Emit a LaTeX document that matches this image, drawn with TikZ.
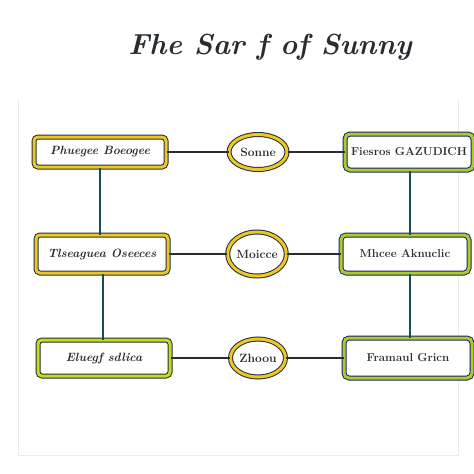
\documentclass[tikz,border=0pt]{standalone}
\usetikzlibrary{shapes.geometric}
\definecolor{ink}{RGB}{40,45,50}
\definecolor{gold}{RGB}{235,200,40}
\definecolor{lime}{RGB}{170,205,40}
\definecolor{pagegray}{RGB}{232,234,236}
\tikzset{
  leftbox/.style={draw=ink, double=gold, double distance=3pt, line width=1pt, fill=white, rounded corners=4pt, minimum width=132pt, minimum height=30pt, font=\fontsize{12}{14}\selectfont\bfseries\itshape, text=ink},
  rightbox/.style={draw=ink!70!blue, double=lime, double distance=3pt, line width=1pt, fill=white, rounded corners=5pt, minimum width=128pt, minimum height=36pt, font=\fontsize{11.5}{14}\selectfont\bfseries, text=ink},
  midell/.style={ellipse, draw=ink, double=gold, double distance=3pt, line width=1pt, fill=white, minimum width=58pt, minimum height=38pt, inner sep=0pt, font=\fontsize{12}{14}\selectfont\bfseries, text=ink},
  link/.style={draw=ink, line width=1.1pt},
  vlink/.style={draw=ink!60!teal, line width=1.1pt}
}
\begin{document}
\begin{tikzpicture}[x=1pt,y=-1pt]
\useasboundingbox (0,0) rectangle (474,474);
\fill[white] (0,0) rectangle (474,474);
\draw[pagegray, line width=1pt] (18,100) -- (18,455) -- (458,455) -- (458,100);
% title
\node (title) at (270,47) {\fontsize{29}{32}\selectfont\bfseries\itshape\color{ink} Fhe Sar f of Sunny};
% nodes
\node[leftbox] (l1) at (100,152) {Phuegee Boeogee};
\node[leftbox, minimum height=38pt] (l2) at (102,254) {Tlseaguea Oseeces};
\node[leftbox, double=lime!70!yellow, minimum height=36pt] (l3) at (104,358) {Eluegf sdlica};
\node[midell, minimum height=35pt] (m1) at (258,152) {Sonne};
\node[midell, minimum height=44pt] (m2) at (257,254) {Moicce};
\node[midell, minimum width=55pt] (m3) at (258,358) {Zhoou};
\node[rightbox] (r1) at (409,152) {Fiesros GAZUDICH};
\node[rightbox, minimum height=38pt] (r2) at (405,254) {Mhcee Aknuclic};
\node[rightbox, minimum height=40pt] (r3) at (408,358) {Framaul Gricn};
% links
\draw[link] (l1) -- (m1);
\draw[link] (m1) -- (r1);
\draw[link] (l2) -- (m2);
\draw[link] (m2) -- (r2);
\draw[link] (l3) -- (m3);
\draw[link] (m3) -- (r3);
\draw[vlink] (l1.south -| 100,0) -- (l2.north -| 100,0);
\draw[vlink] (l2.south -| 103,0) -- (l3.north -| 103,0);
\draw[vlink] (r1.south -| 410,0) -- (r2.north -| 410,0);
\draw[vlink] (r2.south -| 410,0) -- (r3.north -| 410,0);
\end{tikzpicture}
\end{document}
